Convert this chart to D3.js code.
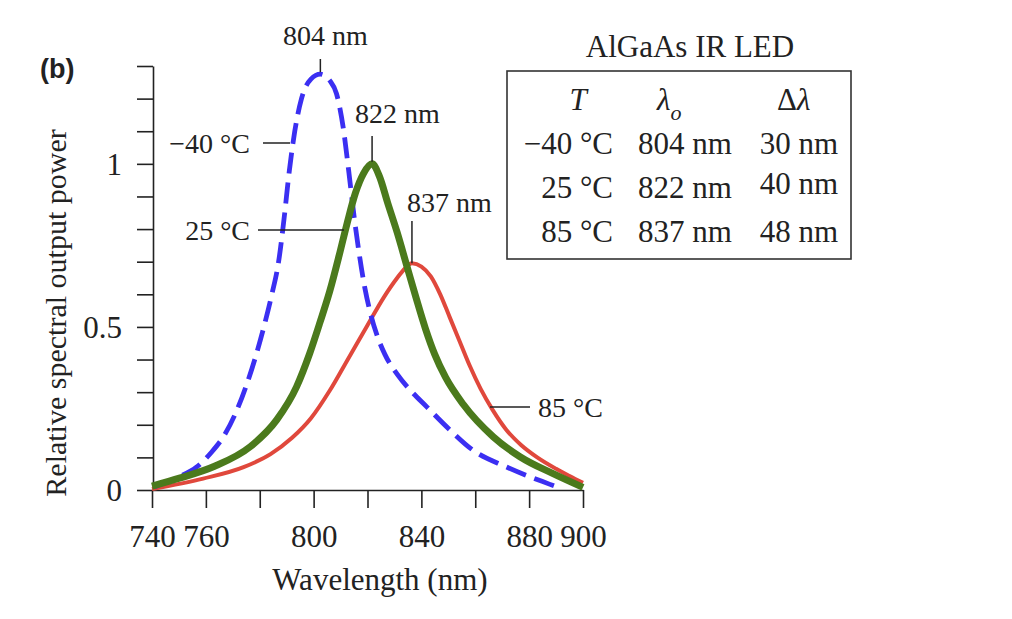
<!DOCTYPE html>
<html>
<head>
<meta charset="utf-8">
<script src="https://cdn.jsdelivr.net/npm/d3@7"></script>
<style>
  body { margin: 0; background: #fff; }
  text { font-family: "Liberation Serif", "Times New Roman", serif; fill: #222; }
</style>
</head>
<body>
<div id="container"></div>
<script>
// values: [wavelength nm, relative power]
var coldData = [[741, 0.01], [749, 0.037], [756.5, 0.07], [762, 0.115], [767, 0.17], [771, 0.235],
    [775, 0.32], [778.5, 0.41], [782, 0.515], [784.5, 0.6], [787, 0.7], [789, 0.83], [791, 0.98],
    [793, 1.1], [795.5, 1.2], [799, 1.26], [802.5, 1.275], [806, 1.255], [808.5, 1.215], [811, 1.11],
    [813, 0.98], [815, 0.84], [817, 0.72], [819, 0.62], [821, 0.545], [823.5, 0.475], [826.5, 0.415],
    [831, 0.355], [836, 0.305], [842, 0.255], [850.5, 0.185], [859, 0.123], [871.5, 0.071],
    [887.5, 0.018], [892, 0.004]];
var roomData = [[740, 0.012], [750.5, 0.037], [763, 0.072], [776.5, 0.133], [786.3, 0.215], [793.7, 0.317],
    [798.6, 0.42], [802.4, 0.515], [806, 0.61], [809.5, 0.72], [812.5, 0.82], [815.5, 0.91], [818.5, 0.97],
    [821.7, 1.0], [824.5, 0.96], [827.5, 0.88], [831, 0.79], [834.5, 0.69], [838, 0.59], [841.5, 0.495],
    [845, 0.415], [849, 0.345], [855.6, 0.262], [866.7, 0.163], [876.6, 0.102], [888.9, 0.05], [900, 0.008]];
var hotData = [[740, 0.003], [759, 0.035], [774, 0.07], [784, 0.11], [792, 0.16], [799, 0.22], [806, 0.305],
    [813, 0.405], [820, 0.505], [826, 0.59], [831, 0.65], [834, 0.68], [836.5, 0.695], [840, 0.685],
    [843.5, 0.655], [847, 0.6], [850.5, 0.53], [854, 0.46], [858, 0.38], [862, 0.31], [866.5, 0.245],
    [871.5, 0.185], [877, 0.138], [883, 0.1], [890, 0.065], [895, 0.043], [900, 0.022]];

var seriesNames = ['\u221240 \u00b0C', '25 \u00b0C', '85 \u00b0C'];
var peakLabels = ['804 nm', '822 nm', '837 nm'];
var tableTitle = 'AlGaAs IR LED';
var tableTemps = ['\u221240 \u00b0C', '25 \u00b0C', '85 \u00b0C'];
var tablePeaks = ['804 nm', '822 nm', '837 nm'];
var tableWidths = ['30 nm', '40 nm', '48 nm'];

var xTicks = [740, 760, 780, 800, 820, 840, 860, 880, 900];
var xLabels = [740, 760, 800, 840, 880, 900];
var yTicks = d3.range(0, 1.31, 0.1).map(function (d) { return +d.toFixed(1); });
var yLabels = [0, 0.5, 1];

var svg = d3.select('#container')
    .append('svg')
    .attr('width', 1012)
    .attr('height', 619);

var x = d3.scaleLinear().domain([740, 900]).range([152, 583]);
var y = d3.scaleLinear().domain([0, 1.3]).range([490, 66]);

// axes
var xAxis = svg.append('g')
    .attr('transform', 'translate(0,490)')
    .call(d3.axisBottom(x).tickValues(xTicks).tickSize(18).tickSizeOuter(0).tickPadding(17)
        .tickFormat(function (d) { return xLabels.indexOf(d) >= 0 ? d : ''; }));
var yAxis = svg.append('g')
    .attr('transform', 'translate(153,0)')
    .call(d3.axisLeft(y).tickValues(yTicks).tickSize(16).tickSizeOuter(0).tickPadding(15)
        .tickFormat(function (d) { return yLabels.indexOf(d) >= 0 ? d : ''; }));

[xAxis, yAxis].forEach(function (g) {
    g.selectAll('path, line').attr('stroke', '#222').attr('stroke-width', 1.6);
    g.selectAll('text')
        .style('font-family', '"Liberation Serif", serif')
        .style('font-size', '31px')
        .attr('fill', '#222');
});
yAxis.selectAll('text').attr('dy', '0.34em');

svg.append('text')
    .attr('x', 380).attr('y', 590)
    .attr('text-anchor', 'middle')
    .style('font-size', '31px')
    .text('Wavelength (nm)');

svg.append('text')
    .attr('transform', 'translate(66,313) rotate(-90)')
    .attr('text-anchor', 'middle')
    .style('font-size', '30px')
    .text('Relative spectral output power');

svg.append('text')
    .attr('x', 40).attr('y', 78)
    .style('font-family', '"Liberation Sans", Arial, sans-serif')
    .style('font-weight', 'bold')
    .style('font-size', '27px')
    .text('(b)');

// curves
var line = d3.line()
    .x(function (d) { return x(d[0]); })
    .y(function (d) { return y(d[1]); })
    .curve(d3.curveMonotoneX);

svg.append('path')
    .attr('d', line(hotData))
    .attr('fill', 'none')
    .attr('stroke', '#e0483c')
    .attr('stroke-width', 4);

svg.append('path')
    .attr('d', line(coldData))
    .attr('fill', 'none')
    .attr('stroke', '#3b2ff2')
    .attr('stroke-width', 4.8)
    .style('stroke-dasharray', '21,9');

svg.append('path')
    .attr('d', line(roomData))
    .attr('fill', 'none')
    .attr('stroke', '#4b7a1c')
    .attr('stroke-width', 7);

// annotations
function leader(x1, y1, x2, y2) {
    svg.append('line')
        .attr('x1', x1).attr('y1', y1).attr('x2', x2).attr('y2', y2)
        .attr('stroke', '#222').attr('stroke-width', 1.5);
}
function label(tx, ty, anchor, s) {
    svg.append('text')
        .attr('x', tx).attr('y', ty)
        .attr('text-anchor', anchor)
        .style('font-size', '28px')
        .text(s);
}

var peaks = [coldData, roomData, hotData].map(function (s) {
    return s.reduce(function (a, b) { return b[1] > a[1] ? b : a; });
});

leader(x(peaks[0][0]), 59, x(peaks[0][0]), y(peaks[0][1]) - 2);
label(283, 45, 'start', peakLabels[0]);
leader(x(peaks[1][0]), 136, x(peaks[1][0]), y(peaks[1][1]) - 2);
label(355, 123, 'start', peakLabels[1]);
leader(x(peaks[2][0]), 221, x(peaks[2][0]), y(peaks[2][1]));
label(407, 212, 'start', peakLabels[2]);

leader(263, 143, 290, 143);
label(250, 153, 'end', seriesNames[0]);
leader(258, 230, 344, 230);
label(250, 240, 'end', seriesNames[1]);
leader(490, 407, 530, 407);
label(538, 417, 'start', seriesNames[2]);

// table box
svg.append('text')
    .attr('x', 690).attr('y', 57)
    .attr('text-anchor', 'middle')
    .style('font-size', '31px')
    .text(tableTitle);

svg.append('rect')
    .attr('x', 507).attr('y', 71)
    .attr('width', 344).attr('height', 188)
    .attr('fill', 'none')
    .attr('stroke', '#333')
    .attr('stroke-width', 1.6);

var head = svg.append('g').style('font-size', '31px');
head.append('text').attr('x', 578).attr('y', 110).attr('text-anchor', 'middle')
    .style('font-style', 'italic').text('T');
var lam = head.append('text').attr('x', 657).attr('y', 110).style('font-style', 'italic');
lam.append('tspan').text('\u03bb');
lam.append('tspan').attr('dy', 10).style('font-size', '22px').text('o');
var dl = head.append('text').attr('x', 777).attr('y', 110);
dl.append('tspan').text('\u0394');
dl.append('tspan').style('font-style', 'italic').text('\u03bb');

var rowY = [154, 198, 242];
tableTemps.forEach(function (t, i) {
    svg.append('text').attr('x', 613).attr('y', rowY[i]).attr('text-anchor', 'end')
        .style('font-size', '31px').text(t);
    svg.append('text').attr('x', 638).attr('y', rowY[i])
        .style('font-size', '31px').text(tablePeaks[i]);
    svg.append('text').attr('x', 838).attr('y', rowY[i] - (i == 1 ? 4 : 0)).attr('text-anchor', 'end')
        .style('font-size', '31px').text(tableWidths[i]);
});
</script>
</body>
</html>
